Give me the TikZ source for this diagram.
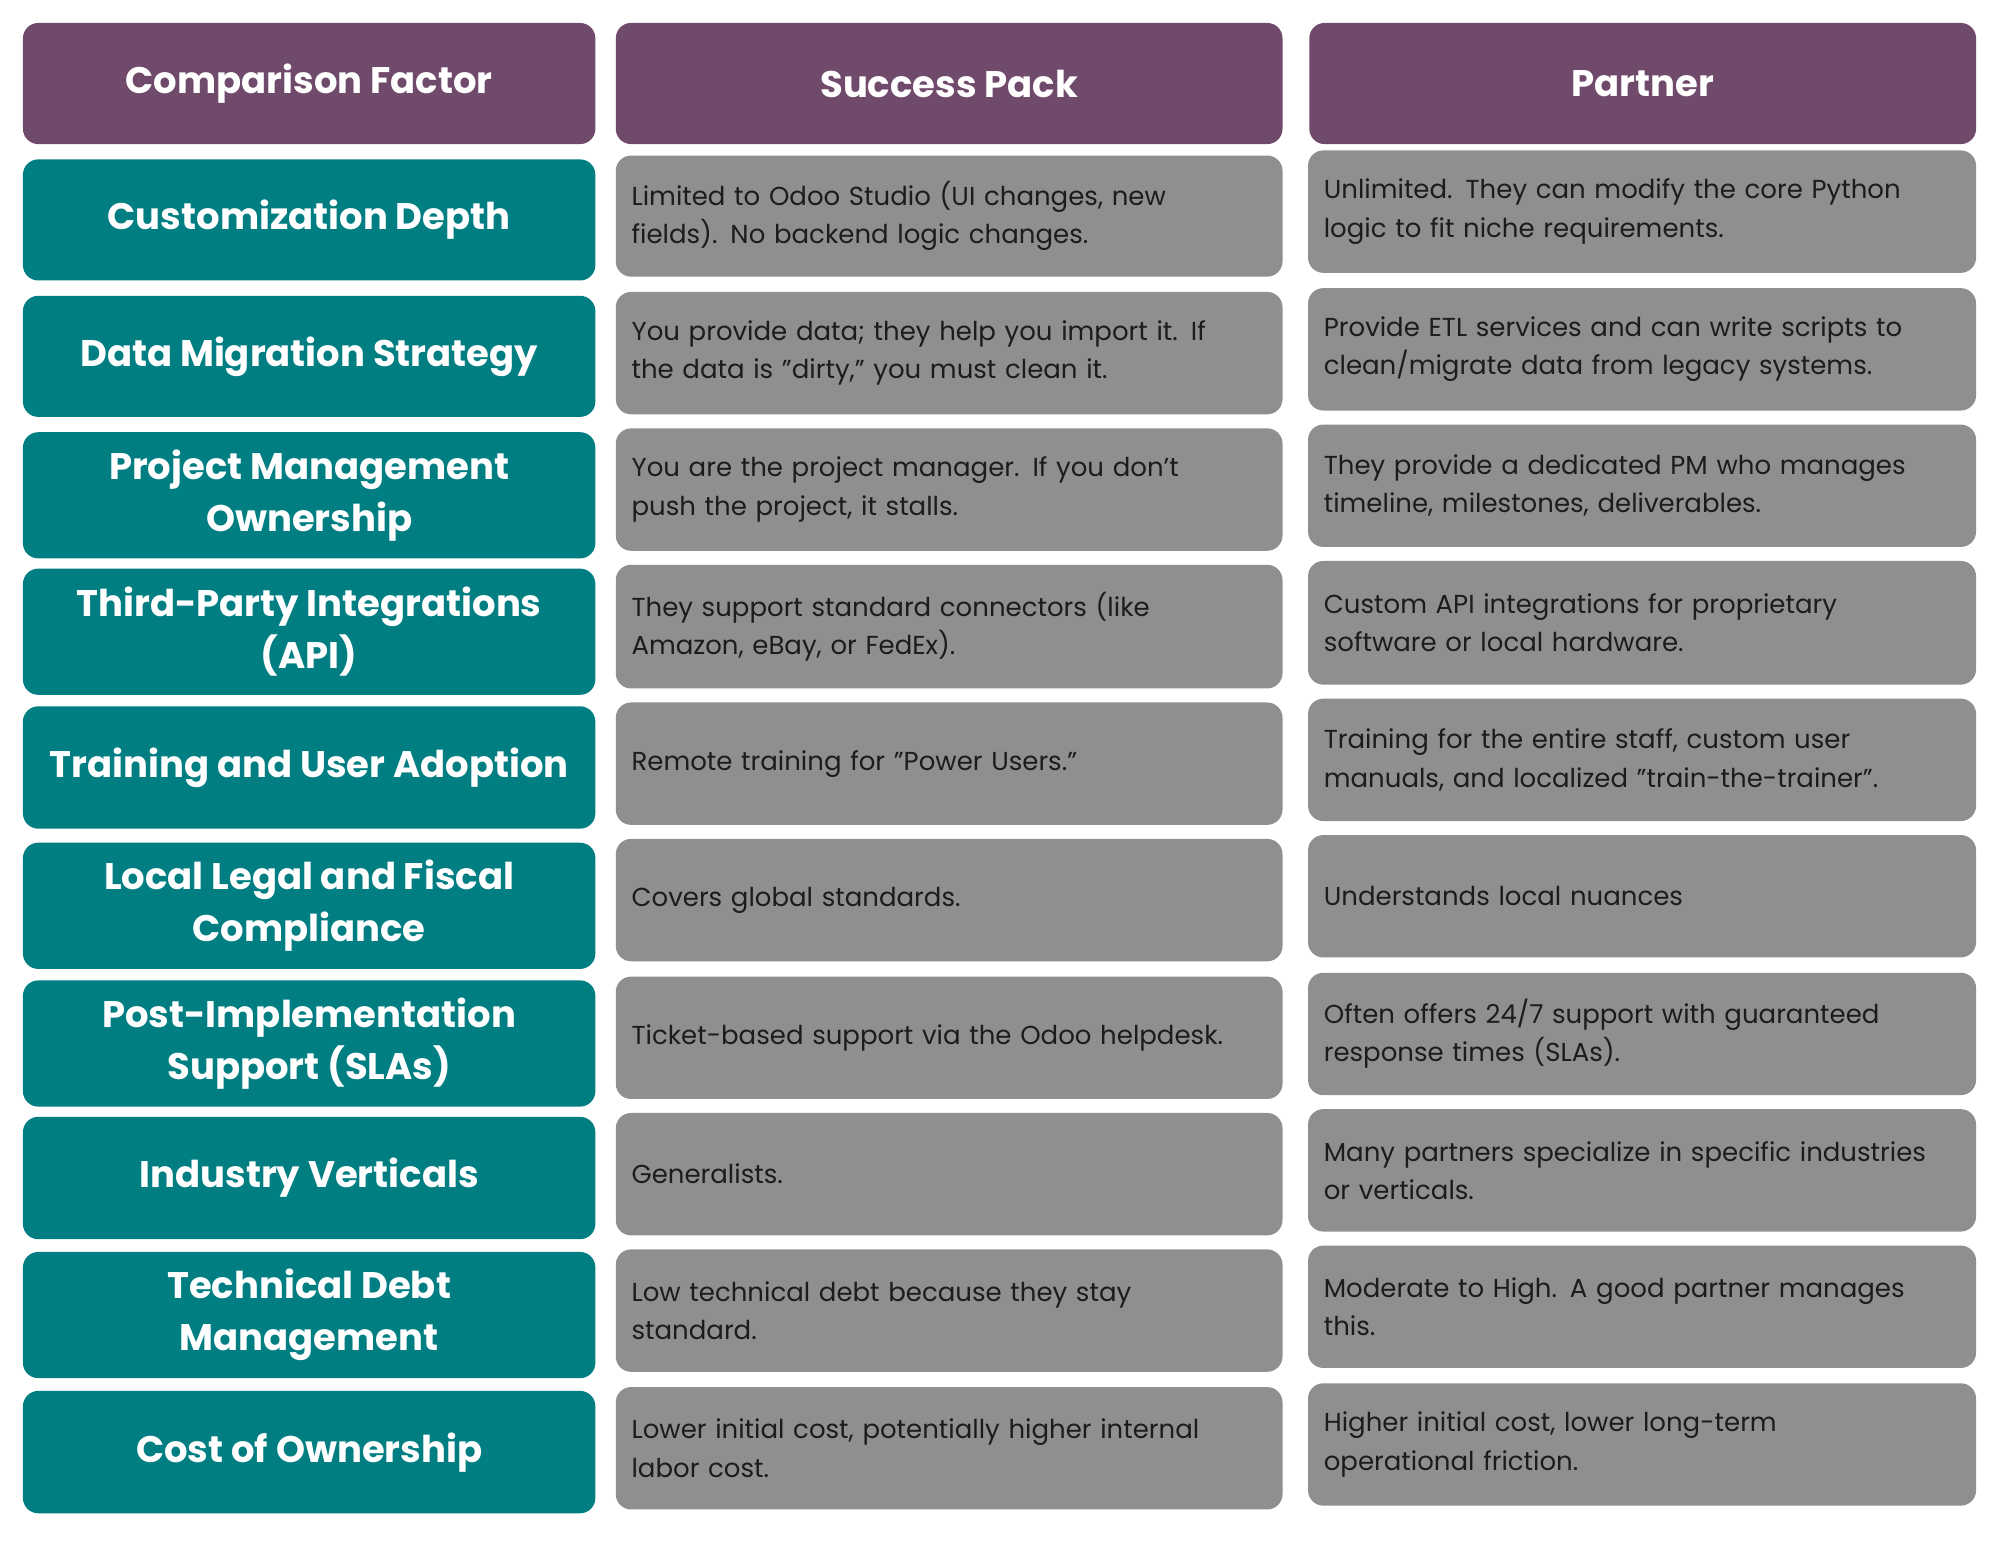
\documentclass[tikz,border=0pt]{standalone}
\usepackage{fontspec}
\setmainfont{Poppins}
\definecolor{hpur}{HTML}{704A6A}
\definecolor{teal2}{HTML}{007E82}
\definecolor{gry}{HTML}{8F8F8F}
\definecolor{txt}{HTML}{1C1C1C}
\begin{document}
\begin{tikzpicture}[x=0.5pt,y=-0.5pt,
 box/.style={rounded corners=6pt,inner sep=0pt},
 head/.style={box,fill=hpur,text=white,font=\fontsize{14.5}{18}\selectfont\bfseries,align=center},
 fac/.style={box,fill=teal2,text=white,font=\fontsize{14.5}{20.5}\selectfont\bfseries,align=center},
 body/.style={box,fill=gry,text=txt,font=\fontsize{10.2}{15}\selectfont,align=left,text width=250pt}]
\useasboundingbox (0,0) rectangle (1568,1212);
\newcommand\cellh[7]{\node[#6,minimum width={(#4-#2)*0.5pt},minimum height={(#5-#3)*0.5pt}] (#1) at ({(#2+#4)/2},{(#3+#5)/2}) {#7};}
\newcommand\cellb[7]{\fill[gry,rounded corners=6pt] (#2,#3) rectangle (#4,#5);
 \node[body,anchor=west,fill=none] (#1) at ({#2+12},{(#3+#5)/2}) {#7};}
\cellh{h1}{18}{18}{467}{113}{head}{Comparison Factor}
\cellh{h2}{483}{18}{1006}{113}{head}{Success Pack}
\cellh{h3}{1027}{18}{1550}{113}{head}{Partner}
\cellh{f1}{18}{125}{467}{220}{fac}{Customization Depth}
\cellh{f2}{18}{232}{467}{327}{fac}{Data Migration Strategy}
\cellh{f3}{18}{339}{467}{438}{fac}{Project Management\\Ownership}
\cellh{f4}{18}{446}{467}{545}{fac}{Third-Party Integrations\\(API)}
\cellh{f5}{18}{554}{467}{650}{fac}{Training and User Adoption}
\cellh{f6}{18}{661}{467}{760}{fac}{Local Legal and Fiscal\\Compliance}
\cellh{f7}{18}{769}{467}{868}{fac}{Post-Implementation\\Support (SLAs)}
\cellh{f8}{18}{876}{467}{972}{fac}{Industry Verticals}
\cellh{f9}{18}{982}{467}{1081}{fac}{Technical Debt\\Management}
\cellh{f10}{18}{1091}{467}{1187}{fac}{Cost of Ownership}
\cellb{s1}{483}{122}{1006}{217}{}{Limited to Odoo Studio (UI changes, new\\fields). No backend logic changes.}
\cellb{s2}{483}{229}{1006}{325}{}{You provide data; they help you import it. If\\the data is "dirty," you must clean it.}
\cellb{s3}{483}{336}{1006}{432}{}{You are the project manager. If you don't\\push the project, it stalls.}
\cellb{s4}{483}{443}{1006}{540}{}{They support standard connectors (like\\Amazon, eBay, or FedEx).}
\cellb{s5}{483}{551}{1006}{647}{}{Remote training for "Power Users."}
\cellb{s6}{483}{658}{1006}{754}{}{Covers global standards.}
\cellb{s7}{483}{766}{1006}{862}{}{Ticket-based support via the Odoo helpdesk.}
\cellb{s8}{483}{873}{1006}{969}{}{Generalists.}
\cellb{s9}{483}{980}{1006}{1076}{}{Low technical debt because they stay\\standard.}
\cellb{s10}{483}{1088}{1006}{1184}{}{Lower initial cost, potentially higher internal\\labor cost.}
\cellb{p1}{1026}{118}{1550}{214}{}{Unlimited. They can modify the core Python\\logic to fit niche requirements.}
\cellb{p2}{1026}{226}{1550}{322}{}{Provide ETL services and can write scripts to\\clean/migrate data from legacy systems.}
\cellb{p3}{1026}{333}{1550}{429}{}{They provide a dedicated PM who manages\\timeline, milestones, deliverables.}
\cellb{p4}{1026}{440}{1550}{537}{}{Custom API integrations for proprietary\\software or local hardware.}
\cellb{p5}{1026}{548}{1550}{644}{}{Training for the entire staff, custom user\\manuals, and localized "train-the-trainer".}
\cellb{p6}{1026}{655}{1550}{751}{}{Understands local nuances}
\cellb{p7}{1026}{763}{1550}{859}{}{Often offers 24/7 support with guaranteed\\response times (SLAs).}
\cellb{p8}{1026}{870}{1550}{966}{}{Many partners specialize in specific industries\\or verticals.}
\cellb{p9}{1026}{977}{1550}{1073}{}{Moderate to High. A good partner manages\\this.}
\cellb{p10}{1026}{1085}{1550}{1181}{}{Higher initial cost, lower long-term\\operational friction.}
\end{tikzpicture}
\end{document}
